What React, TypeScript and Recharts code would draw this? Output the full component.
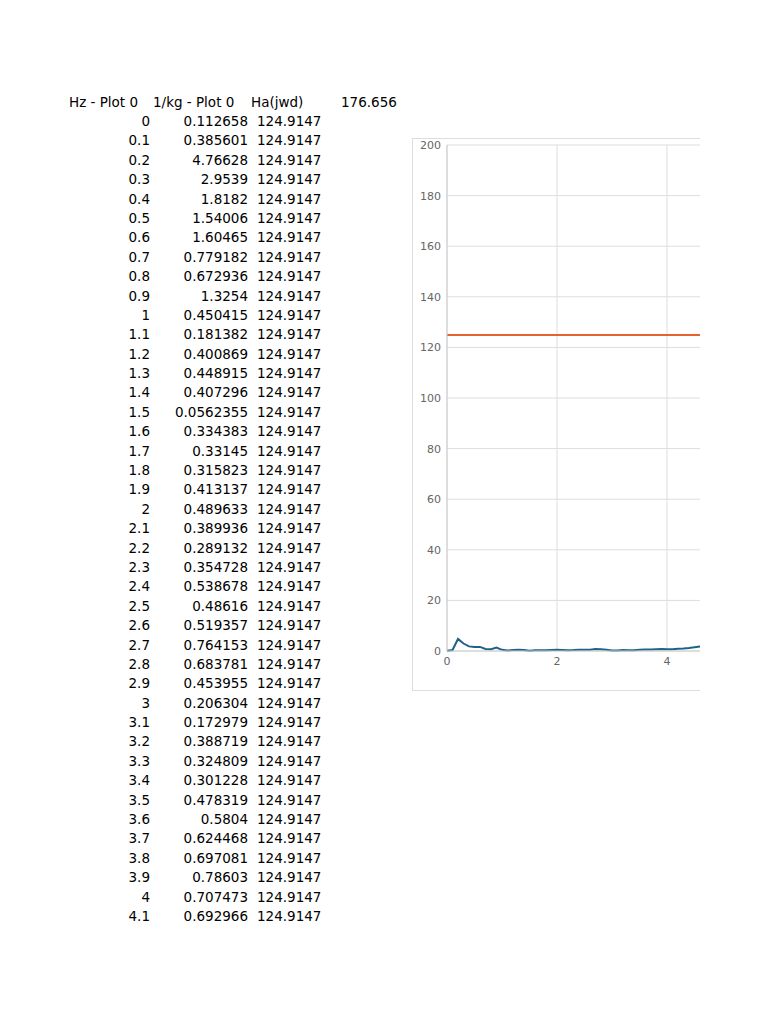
import { LineChart, Line, XAxis, YAxis, CartesianGrid } from 'recharts'

const hz = [
  0, 0.1, 0.2, 0.3, 0.4, 0.5, 0.6, 0.7, 0.8, 0.9, 1, 1.1, 1.2, 1.3, 1.4, 1.5, 1.6, 1.7, 1.8, 1.9, 2, 2.1,
  2.2, 2.3, 2.4, 2.5, 2.6, 2.7, 2.8, 2.9, 3, 3.1, 3.2, 3.3, 3.4, 3.5, 3.6, 3.7, 3.8, 3.9, 4, 4.1,
]
const hzLabels = [
  '0', '0.1', '0.2', '0.3', '0.4', '0.5', '0.6', '0.7', '0.8', '0.9', '1', '1.1', '1.2', '1.3', '1.4', '1.5',
  '1.6', '1.7', '1.8', '1.9', '2', '2.1', '2.2', '2.3', '2.4', '2.5', '2.6', '2.7', '2.8', '2.9', '3', '3.1',
  '3.2', '3.3', '3.4', '3.5', '3.6', '3.7', '3.8', '3.9', '4', '4.1',
]
const perKg = [
  0.112658, 0.385601, 4.76628, 2.9539, 1.8182, 1.54006, 1.60465, 0.779182, 0.672936, 1.3254, 0.450415,
  0.181382, 0.400869, 0.448915, 0.407296, 0.0562355, 0.334383, 0.33145, 0.315823, 0.413137, 0.489633,
  0.389936, 0.289132, 0.354728, 0.538678, 0.48616, 0.519357, 0.764153, 0.683781, 0.453955, 0.206304,
  0.172979, 0.388719, 0.324809, 0.301228, 0.478319, 0.5804, 0.624468, 0.697081, 0.78603, 0.707473, 0.692966,
]
const perKgLabels = [
  '0.112658', '0.385601', '4.76628', '2.9539', '1.8182', '1.54006', '1.60465', '0.779182', '0.672936',
  '1.3254', '0.450415', '0.181382', '0.400869', '0.448915', '0.407296', '0.0562355', '0.334383', '0.33145',
  '0.315823', '0.413137', '0.489633', '0.389936', '0.289132', '0.354728', '0.538678', '0.48616', '0.519357',
  '0.764153', '0.683781', '0.453955', '0.206304', '0.172979', '0.388719', '0.324809', '0.301228', '0.478319',
  '0.5804', '0.624468', '0.697081', '0.78603', '0.707473', '0.692966',
]
// rows below the visible table
const hzHidden = [4.2, 4.3, 4.4, 4.5, 4.6, 4.7]
const perKgHidden = [0.85, 1.0, 1.2, 1.5, 1.8, 2.0]

const haValue = 124.9147
const haLabel = '124.9147'
const headers = ['Hz - Plot 0', '1/kg - Plot 0', 'Ha(jwd)', '176.656']

const yTicks = [0, 20, 40, 60, 80, 100, 120, 140, 160, 180, 200]
const xTicks = [0, 2, 4]

const data = [...hz, ...hzHidden].map((f, i) => ({
  hz: f,
  perKg: i < perKg.length ? perKg[i] : perKgHidden[i - perKg.length],
  ha: haValue,
}))

const font = '"DejaVu Sans", sans-serif'
const rowTop = (i: number) => 121 + i * 19.39 - 8

export default function App() {
  return (
    <div style={{ position: 'absolute', left: 0, top: 0, width: 768, height: 1024, background: '#fff', fontFamily: font, fontSize: 13.5, color: '#000', overflow: 'hidden' }}>
      <div style={{ position: 'absolute', top: 94, left: 69, whiteSpace: 'nowrap' }}>{headers[0]}</div>
      <div style={{ position: 'absolute', top: 94, left: 153, whiteSpace: 'nowrap' }}>{headers[1]}</div>
      <div style={{ position: 'absolute', top: 94, left: 251, whiteSpace: 'nowrap' }}>{headers[2]}</div>
      <div style={{ position: 'absolute', top: 94, left: 341, whiteSpace: 'nowrap' }}>{headers[3]}</div>
      {hzLabels.map((h, i) => (
        <div key={i}>
          <div style={{ position: 'absolute', top: rowTop(i), left: 60, width: 90, textAlign: 'right' }}>{h}</div>
          <div style={{ position: 'absolute', top: rowTop(i), left: 150, width: 98, textAlign: 'right' }}>{perKgLabels[i]}</div>
          <div style={{ position: 'absolute', top: rowTop(i), left: 257, whiteSpace: 'nowrap' }}>{haLabel}</div>
        </div>
      ))}

      <div style={{ position: 'absolute', left: 412, top: 138, width: 288, height: 553, overflow: 'hidden' }}>
        <div style={{ width: 380, height: 551, border: '1px solid #ddd' }}>
          <LineChart width={380} height={551} data={data} margin={{ top: 6, right: 16, left: 0, bottom: 9 }}>
            <CartesianGrid stroke="#ddd" />
            <XAxis
              dataKey="hz"
              type="number"
              domain={[0, 6]}
              ticks={xTicks}
              height={30}
              axisLine={{ stroke: '#ccc' }}
              tickLine={false}
              tickSize={4}
              tick={{ fill: '#666', fontSize: 11, fontFamily: font }}
            />
            <YAxis
              type="number"
              domain={[0, 200]}
              ticks={yTicks}
              width={34}
              axisLine={{ stroke: '#ccc' }}
              tickLine={false}
              tickSize={4}
              tick={{ fill: '#666', fontSize: 11, fontFamily: font }}
            />
            <Line dataKey="ha" stroke="#e8622e" strokeWidth={2} dot={false} isAnimationActive={false} />
            <Line dataKey="perKg" stroke="#1f6289" strokeWidth={2} dot={false} isAnimationActive={false} />
          </LineChart>
        </div>
      </div>
    </div>
  )
}
